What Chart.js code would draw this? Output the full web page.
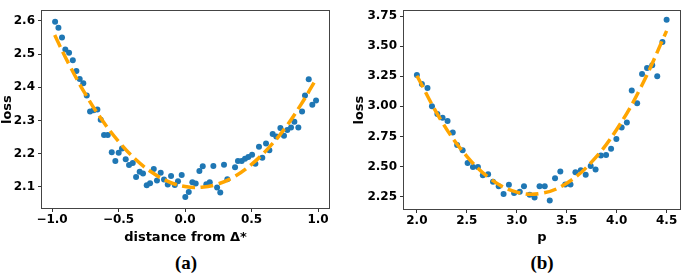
<!DOCTYPE html>
<html>
<head>
<meta charset="utf-8">
<script src="https://cdn.jsdelivr.net/npm/chart.js@4"></script>
<style>
  body { margin: 0; background: #fff; width: 685px; height: 275px; position: relative; overflow: hidden; }
  canvas { position: absolute; top: 0; }
  .cap { position: absolute; font: bold 19px "Liberation Serif", serif; color: #000; transform: translate(-50%, -50%); }
</style>
</head>
<body>
<canvas id="chartA" width="340" height="250" style="left:0px"></canvas>
<canvas id="chartB" width="345" height="250" style="left:340px"></canvas>
<div class="cap" style="left:186px; top:263px">(a)</div>
<div class="cap" style="left:542px; top:263px">(b)</div>
<script>
// (a) loss vs distance from delta*
const distX = [-0.977, -0.952, -0.925, -0.900, -0.872, -0.844, -0.817, -0.792, -0.765, -0.739,
  -0.714, -0.687, -0.659, -0.634, -0.609, -0.581, -0.551, -0.524, -0.499, -0.474,
  -0.446, -0.421, -0.393, -0.368, -0.341, -0.316, -0.288, -0.263, -0.235, -0.211,
  -0.183, -0.158, -0.130, -0.105, -0.077, -0.053, -0.025, 0.002, 0.028, 0.055,
  0.080, 0.108, 0.133, 0.160, 0.186, 0.213, 0.241, 0.265, 0.293, 0.318,
  0.376, 0.398, 0.426, 0.451, 0.476, 0.504, 0.529, 0.556, 0.581, 0.609,
  0.634, 0.659, 0.686, 0.717, 0.744, 0.769, 0.797, 0.822, 0.852, 0.880,
  0.902, 0.930, 0.957, 0.985];
const distLoss = [2.597, 2.579, 2.550, 2.514, 2.504, 2.481, 2.449, 2.425, 2.412, 2.375,
  2.327, 2.331, 2.333, 2.302, 2.256, 2.256, 2.204, 2.178, 2.203, 2.216,
  2.183, 2.166, 2.172, 2.130, 2.146, 2.140, 2.105, 2.111, 2.154, 2.119,
  2.143, 2.122, 2.107, 2.133, 2.106, 2.117, 2.136, 2.070, 2.085, 2.114,
  2.110, 2.148, 2.162, 2.108, 2.114, 2.163, 2.098, 2.083, 2.167, 2.123,
  2.159, 2.178, 2.178, 2.185, 2.190, 2.197, 2.170, 2.221, 2.188, 2.231,
  2.210, 2.259, 2.252, 2.277, 2.254, 2.271, 2.279, 2.296, 2.279, 2.327,
  2.375, 2.424, 2.347, 2.360];
// dashed fit curve
const distFitX = [-0.98, -0.875, -0.75, -0.625, -0.5, -0.375, -0.25, -0.125, 0,
  0.125, 0.25, 0.375, 0.5, 0.625, 0.75, 0.875, 0.97];
const distFitLoss = [2.557, 2.471, 2.380, 2.302, 2.237, 2.184, 2.144, 2.116, 2.101,
  2.099, 2.109, 2.132, 2.168, 2.216, 2.276, 2.350, 2.414];
const distTicksX = [-1.0, -0.5, 0.0, 0.5, 1.0];
const distTicksY = [2.1, 2.2, 2.3, 2.4, 2.5, 2.6];

// (b) loss vs p
const pX = [2.000, 2.050, 2.106, 2.151, 2.205, 2.257, 2.307, 2.359, 2.403, 2.458,
  2.508, 2.561, 2.611, 2.660, 2.713, 2.762, 2.819, 2.868, 2.921, 2.973,
  3.030, 3.072, 3.129, 3.178, 3.228, 3.280, 3.330, 3.383, 3.436, 3.485,
  3.538, 3.587, 3.641, 3.690, 3.740, 3.789, 3.842, 3.894, 3.944, 3.997,
  4.050, 4.102, 4.151, 4.205, 4.254, 4.304, 4.356, 4.406, 4.458, 4.500];
const pLoss = [3.262, 3.187, 3.153, 3.001, 2.937, 2.905, 2.879, 2.783, 2.679, 2.636,
  2.530, 2.495, 2.495, 2.428, 2.436, 2.372, 2.335, 2.272, 2.348, 2.280,
  2.290, 2.335, 2.264, 2.242, 2.335, 2.335, 2.218, 2.402, 2.458, 2.351,
  2.351, 2.452, 2.468, 2.431, 2.503, 2.474, 2.591, 2.596, 2.647, 2.729,
  2.825, 2.865, 3.131, 3.025, 3.270, 3.320, 3.342, 3.251, 3.536, 3.720];
const pFitX = [2.0, 2.25, 2.5, 2.75, 3.0, 3.25, 3.5, 3.75, 4.0, 4.25, 4.5];
const pFitLoss = [3.255, 2.873, 2.585, 2.389, 2.287, 2.277, 2.361, 2.538, 2.808, 3.171, 3.628];
const pTicksX = [2.0, 2.5, 3.0, 3.5, 4.0, 4.5];
const pTicksY = [2.25, 2.50, 2.75, 3.00, 3.25, 3.50, 3.75];

const tickFont = { family: 'DejaVu Sans', size: 12, weight: 'bold' };
const titleFont = { family: 'DejaVu Sans', size: 13, weight: 'bold' };

// draw a full box around the plot, like the matplotlib spines
const spines = {
  id: 'spines',
  afterDraw(chart) {
    const a = chart.chartArea;
    const ctx = chart.ctx;
    ctx.save();
    ctx.strokeStyle = '#444';
    ctx.lineWidth = 1;
    ctx.strokeRect(Math.round(a.left) + 0.5, Math.round(a.top) + 0.5,
      Math.round(a.right - a.left) - 1, Math.round(a.bottom - a.top) - 1);
    ctx.restore();
  }
};

function fmt(v, d) {
  return v.toFixed(d).replace('-', '\u2212');
}

function makeChart(id, xs, ys, fx, fy, o) {
  const pts = xs.map((x, i) => ({ x: x, y: ys[i] }));
  const fit = fx.map((x, i) => ({ x: x, y: fy[i] }));
  return new Chart(document.getElementById(id), {
    type: 'scatter',
    data: {
      datasets: [{
        data: fit,
        type: 'line',
        showLine: true,
        borderColor: '#ffa500',
        borderWidth: 3.5,
        borderDash: [13, 5.5],
        pointRadius: 0,
        tension: 0.4,
        fill: false,
        order: 0
      }, {
        data: pts,
        backgroundColor: '#1f77b4',
        borderWidth: 0,
        pointRadius: 3,
        order: 1
      }]
    },
    options: {
      responsive: false,
      animation: false,
      events: [],
      layout: { padding: o.padding },
      plugins: { legend: { display: false }, tooltip: { enabled: false } },
      scales: {
        x: {
          type: 'linear',
          min: o.xMin, max: o.xMax,
          afterBuildTicks: s => { s.ticks = o.xTicks.map(v => ({ value: v })); },
          afterFit: s => { s.height = o.xHeight; },
          grid: { drawOnChartArea: false, tickLength: 3, tickColor: '#333' },
          border: { display: false },
          ticks: { font: tickFont, color: '#000', padding: 1, maxRotation: 0,
            callback: v => fmt(v, o.xDec) },
          title: { display: true, text: o.xTitle, font: titleFont, color: '#000',
            padding: { top: 0, bottom: 5 } }
        },
        y: {
          min: o.yMin, max: o.yMax,
          afterBuildTicks: s => { s.ticks = o.yTicks.map(v => ({ value: v })); },
          afterFit: s => { s.width = o.yWidth; },
          grid: { drawOnChartArea: false, tickLength: 3, tickColor: '#333' },
          border: { display: false },
          ticks: { font: tickFont, color: '#000', padding: 3,
            callback: v => fmt(v, o.yDec) },
          title: { display: true, text: 'loss', font: titleFont, color: '#000',
            padding: { top: o.yTitlePad, bottom: 0 } }
        }
      }
    },
    plugins: [spines]
  });
}

makeChart('chartA', distX, distLoss, distFitX, distFitLoss, {
  padding: { left: 0, right: 10, top: 2, bottom: 0 },
  xMin: -1.083, xMax: 1.09, yMin: 2.0335, yMax: 2.632,
  xTicks: distTicksX, yTicks: distTicksY, xDec: 1, yDec: 1,
  xHeight: 41, yWidth: 41, yTitlePad: 0,
  xTitle: 'distance from \u0394*'
});

makeChart('chartB', pX, pLoss, pFitX, pFitLoss, {
  padding: { left: 0, right: 1, top: 2, bottom: 0 },
  xMin: 1.861, xMax: 4.644, yMin: 2.138, yMax: 3.80,
  xTicks: pTicksX, yTicks: pTicksY, xDec: 1, yDec: 2,
  xHeight: 40, yWidth: 63, yTitlePad: 12,
  xTitle: 'p'
});
</script>
</body>
</html>
